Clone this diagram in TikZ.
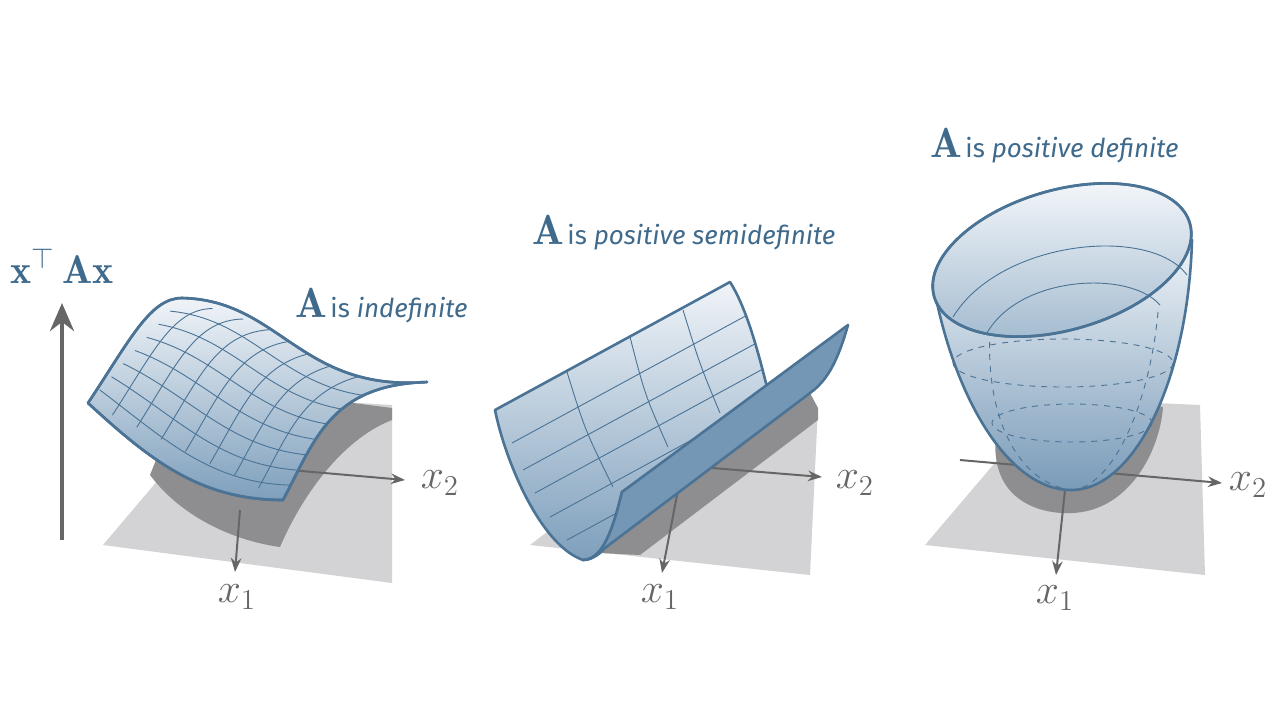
\documentclass[tikz,border=0pt]{standalone}
\usetikzlibrary{arrows.meta,calc}
\usepackage{fontspec}
\newfontfamily\lblfont{Fira Sans}
\definecolor{edge}{HTML}{4A7396}
\definecolor{ttl}{HTML}{3F6A8C}
\definecolor{lite}{HTML}{F0F4F8}
\definecolor{deep}{HTML}{7E9FBC}
\definecolor{dface}{HTML}{7497B5}
\definecolor{plane}{HTML}{D3D3D5}
\definecolor{shad}{HTML}{8E8E90}
\definecolor{ax}{HTML}{666666}
\tikzset{
  surf/.style={draw=edge,line width=1.3pt,top color=lite,bottom color=deep,line join=round},
  grid/.style={draw=edge,line width=0.45pt},
  axis/.style={draw=ax,line width=1pt,-{Stealth[length=7pt]}},
  lbl/.style={text=ttl,anchor=base west,inner sep=0pt},
  axl/.style={text=ax,font=\huge}
}
\newcommand{\ttlA}[1]{{\fontsize{21}{24}\selectfont$\mathbf{A}$}\,{\lblfont\fontsize{13}{15}\selectfont is \textit{#1}}}
\begin{document}
\begin{tikzpicture}[x=0.5pt,y=-0.5pt]
\useasboundingbox (0,0) rectangle (1280,720);
% ===== panel 1 =====
\fill[plane] (103,545) -- (392,583) -- (392,405) -- (230,395) -- cycle;
\fill[shad] (150,475) .. controls (180,515) and (230,540) .. (280,547)
  .. controls (300,500) and (340,440) .. (392,420) -- (392,408) -- (330,400) -- (160,450) -- cycle;
\draw[axis] (290,470) -- (405,480);
\draw[axis] (240,510) -- (235,572);
\node[axl] (x2a) at (440,483) {$x_2$};
\node[axl] (x1a) at (237,597) {$x_1$};
\coordinate (vb) at (62,540); \coordinate (vt) at (62,303);
\draw[draw=ax,line width=2pt,-{Stealth[length=14pt,width=12pt]}] (vb) -- (vt);
\node[text=ttl,font=\fontsize{20}{22}\selectfont] (xax) at (62,266) {$\mathbf{x}^{\top}\,\mathbf{Ax}$};
\coordinate (A) at (88,403); \coordinate (D) at (182,298);
\coordinate (C) at (427,382); \coordinate (B) at (283,500);
\coordinate (ad1) at (130,340); \coordinate (ad2) at (150,298);
\coordinate (bc1) at (315,440); \coordinate (bc2) at (330,385);
\coordinate (ab1) at (150,460); \coordinate (ab2) at (200,500);
\coordinate (dc1) at (280,300); \coordinate (dc2) at (300,392);
\path[surf] (A) .. controls (ad1) and (ad2) .. (D) .. controls (dc1) and (dc2) .. (C)
  .. controls (bc2) and (bc1) .. (B) .. controls (ab2) and (ab1) .. (A) -- cycle;
\begin{scope}
\clip (A) .. controls (ad1) and (ad2) .. (D) .. controls (dc1) and (dc2) .. (C)
  .. controls (bc2) and (bc1) .. (B) .. controls (ab2) and (ab1) .. (A) -- cycle;
\foreach \t in {0.125,0.25,0.375,0.5,0.625,0.75,0.875}{
  \draw[grid] ($(A)!\t!(B)$) .. controls ($(ad1)!\t!(bc1)$) and ($(ad2)!\t!(bc2)$) .. ($(D)!\t!(C)$);
  \draw[grid] ($(A)!\t!(D)$) .. controls ($(ab1)!\t!(dc1)$) and ($(ab2)!\t!(dc2)$) .. ($(B)!\t!(C)$);
}
\end{scope}
\draw[draw=edge,line width=1.3pt,line join=round] (A) .. controls (ad1) and (ad2) .. (D) .. controls (dc1) and (dc2) .. (C)
  .. controls (bc2) and (bc1) .. (B) .. controls (ab2) and (ab1) .. (A) -- cycle;
\node[lbl] (t1) at (295,317) {\ttlA{indefinite}};
% ===== panel 2 =====
\fill[plane] (530,545) -- (810,575) -- (818,407) -- (720,400) -- cycle;
\fill[shad] (600,553) -- (810,393) -- (818,408) -- (818,420) -- (640,555) -- cycle;
\draw[axis] (700,467) -- (822,477);
\draw[axis] (678,490) -- (662,573);
\node[axl] (x2b) at (855,483) {$x_2$};
\node[axl] (x1b) at (660,597) {$x_1$};
\coordinate (P1) at (495,410); \coordinate (P2) at (730,282);
\coordinate (P3) at (767,387); \coordinate (P4) at (622,492);
\coordinate (P5) at (583,560);
\path[surf] (P1) -- (P2) .. controls (748,310) and (760,360) .. (P3) -- (P4)
  .. controls (615,520) and (605,560) .. (P5) .. controls (540,545) and (505,460) .. (P1) -- cycle;
\begin{scope}
\clip (P1) -- (P2) .. controls (748,310) and (760,360) .. (P3) -- (P4)
  .. controls (615,520) and (605,560) .. (P5) .. controls (540,545) and (505,460) .. (P1) -- cycle;
\foreach \lx/\ly in {512/443,523/470,535/493,550/517,567/540}{
  \draw[grid] (\lx,\ly) -- ++(250,-136);
}
\draw[grid] (567,372) .. controls (585,430) .. (613,487);
\draw[grid] (630,337) .. controls (645,395) .. (668,447);
\draw[grid] (683,310) .. controls (700,365) .. (720,413);
\end{scope}
\path[draw=edge,line width=1.3pt,fill=dface,line join=round] (P4) -- (848,325)
  .. controls (838,360) and (828,380) .. (810,393) -- (605,548)
  .. controls (598,556) and (590,560) .. (P5) .. controls (605,560) and (615,520) .. (P4) -- cycle;
\node[lbl] (t2) at (532,244) {\ttlA{positive semidefinite}};
% ===== panel 3 =====
\fill[plane] (925,545) -- (1205,575) -- (1200,405) -- (1050,398) -- cycle;
\fill[shad] (997,427) .. controls (985,500) and (1040,515) .. (1073,513)
  .. controls (1130,510) and (1160,450) .. (1163,407) -- (1100,395) -- cycle;
\draw[axis] (960,460) -- (1222,483);
\draw[axis] (1065,490) -- (1056,575);
\node[axl] (x2c) at (1248,485) {$x_2$};
\node[axl] (x1c) at (1055,598) {$x_1$};
\path[surf,top color=lite,bottom color=deep!90!edge] (934,288) .. controls (955,400) and (1010,492) .. (1073,490)
  .. controls (1135,488) and (1188,380) .. (1192,240) -- cycle;
\draw[grid,dashed] (1063,363) ellipse[x radius=110,y radius=24];
\draw[grid,dashed] (1072,423) ellipse[x radius=80,y radius=19];
\draw[grid,dashed] (990,330) .. controls (985,420) and (1020,485) .. (1073,490);
\draw[grid,dashed] (1158,312) .. controls (1150,400) and (1115,485) .. (1073,490);
\draw[draw=edge,line width=1.3pt,top color=lite,bottom color=deep!70!lite] (1062,260) ellipse[x radius=133,y radius=70,rotate=16];
\draw[grid] (953,317) .. controls (1000,240) and (1150,225) .. (1187,275);
\draw[grid] (987,333) .. controls (1020,275) and (1130,270) .. (1160,305);
\draw[draw=edge,line width=1.3pt] (1062,260) ellipse[x radius=133,y radius=70,rotate=16];
\node[lbl] (t3) at (930,157) {\ttlA{positive definite}};
\end{tikzpicture}
\end{document}
